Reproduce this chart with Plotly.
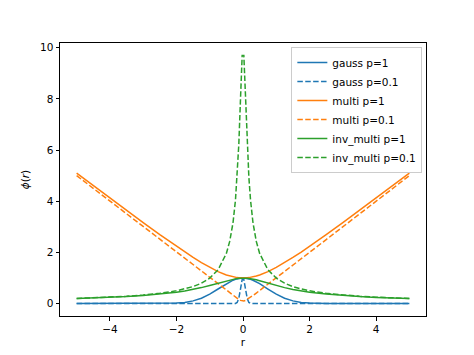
import plotly.graph_objects as go

r = [-5, -4.5, -4, -3.5, -3, -2.5, -2, -1.75, -1.5, -1.25, -1, -0.75, -0.5, -0.4, -0.3,
     -0.226, -0.176, -0.126, -0.075, -0.025,
     0.025, 0.075, 0.126, 0.176, 0.226, 0.3, 0.4, 0.5, 0.75, 1, 1.25, 1.5, 1.75, 2,
     2.5, 3, 3.5, 4, 4.5, 5]

gauss_p1 = [0, 0, 0, 0, 0.0001, 0.0019, 0.0183, 0.0468, 0.1054, 0.2096, 0.3679, 0.5698,
            0.7788, 0.8521, 0.9139, 0.9502, 0.9695, 0.9843, 0.9944, 0.9994,
            0.9994, 0.9944, 0.9843, 0.9695, 0.9502, 0.9139, 0.8521, 0.7788, 0.5698, 0.3679,
            0.2096, 0.1054, 0.0468, 0.0183, 0.0019, 0.0001, 0, 0, 0, 0]

gauss_p01 = [0, 0, 0, 0, 0, 0, 0, 0, 0, 0, 0, 0, 0, 0, 0.0001, 0.0060, 0.0451, 0.2044, 0.5698, 0.9394,
             0.9394, 0.5698, 0.2044, 0.0451, 0.0060, 0.0001, 0, 0, 0, 0, 0, 0, 0, 0, 0, 0, 0, 0, 0, 0]

multi_p1 = [5.0990, 4.6098, 4.1231, 3.6401, 3.1623, 2.6926, 2.2361, 2.0156, 1.8028, 1.6008,
            1.4142, 1.25, 1.1180, 1.0770, 1.0440, 1.0252, 1.0153, 1.0079, 1.0028, 1.0003,
            1.0003, 1.0028, 1.0079, 1.0153, 1.0252, 1.0440, 1.0770, 1.1180, 1.25, 1.4142,
            1.6008, 1.8028, 2.0156, 2.2361, 2.6926, 3.1623, 3.6401, 4.1231, 4.6098, 5.0990]

multi_p01 = [5.001, 4.5011, 4.0012, 3.5014, 3.0017, 2.502, 2.0025, 1.7529, 1.5033, 1.254,
             1.005, 0.7566, 0.5099, 0.4123, 0.3162, 0.2471, 0.2024, 0.1609, 0.125, 0.1031,
             0.1031, 0.125, 0.1609, 0.2024, 0.2471, 0.3162, 0.4123, 0.5099, 0.7566, 1.005,
             1.254, 1.5033, 1.7529, 2.0025, 2.502, 3.0017, 3.5014, 4.0012, 4.5011, 5.001]

inv_multi_p1 = [0.1961, 0.2169, 0.2425, 0.2747, 0.3162, 0.3714, 0.4472, 0.4961, 0.5547, 0.6247,
                0.7071, 0.8, 0.8944, 0.9285, 0.9578, 0.9754, 0.9849, 0.9922, 0.9972, 0.9997,
                0.9997, 0.9972, 0.9922, 0.9849, 0.9754, 0.9578, 0.9285, 0.8944, 0.8, 0.7071,
                0.6247, 0.5547, 0.4961, 0.4472, 0.3714, 0.3162, 0.2747, 0.2425, 0.2169, 0.1961]

inv_multi_p01 = [0.200, 0.222, 0.250, 0.286, 0.333, 0.400, 0.499, 0.571, 0.665, 0.797,
                 0.995, 1.32, 1.96, 2.43, 3.16, 4.05, 4.94, 6.22, 8.0, 9.70,
                 9.70, 8.0, 6.22, 4.94, 4.05, 3.16, 2.43, 1.96, 1.32, 0.995,
                 0.797, 0.665, 0.571, 0.499, 0.400, 0.333, 0.286, 0.250, 0.222, 0.200]

x_ticks = [-4, -2, 0, 2, 4]
y_ticks = [0, 2, 4, 6, 8, 10]

BLUE, ORANGE, GREEN = "#1f77b4", "#ff7f0e", "#2ca02c"
DASH = "5.5px,2.4px"

series = [
    ("gauss p=1", gauss_p1, BLUE, "solid"),
    ("gauss p=0.1", gauss_p01, BLUE, DASH),
    ("multi p=1", multi_p1, ORANGE, "solid"),
    ("multi p=0.1", multi_p01, ORANGE, DASH),
    ("inv_multi p=1", inv_multi_p1, GREEN, "solid"),
    ("inv_multi p=0.1", inv_multi_p01, GREEN, DASH),
]

fig = go.Figure()
for name, ys, col, dash in series:
    fig.add_trace(go.Scatter(x=r, y=ys, mode="lines", name=name,
                             line=dict(color=col, width=1.5, dash=dash)))

axis_common = dict(showline=True, linecolor="black", linewidth=1, mirror=True,
                   ticks="outside", ticklen=3.5, tickwidth=1, tickcolor="black",
                   showgrid=False, zeroline=False, automargin=False,
                   tickfont=dict(family="DejaVu Sans", size=10.5, color="black"))

fig.update_layout(
    width=474, height=355,
    margin=dict(l=60, r=48, t=43, b=39),
    paper_bgcolor="white", plot_bgcolor="white",
    font=dict(family="DejaVu Sans", size=10.5, color="black"),
    xaxis=dict(range=[-5.5, 5.5], tickvals=x_ticks,
               ticktext=["\u22124", "\u22122", "0", "2", "4"],
               title=dict(text="r", standoff=4, font=dict(size=10.5)), **axis_common),
    yaxis=dict(range=[-0.485, 10.185], tickvals=y_ticks,
               title=dict(text="<i>\u03d5</i>(<i>r</i>)", standoff=8, font=dict(size=10.5)),
               **axis_common),
    legend=dict(x=0.99, y=0.985, xanchor="right", yanchor="top",
                bgcolor="rgba(255,255,255,0.8)", bordercolor="#cccccc", borderwidth=1,
                font=dict(family="DejaVu Sans", size=10.5), tracegroupgap=0,
                itemwidth=30),
    showlegend=True,
)

fig.write_html("out.html",
               config={"displayModeBar": False},
               post_script="document.body.style.margin='0';document.body.style.overflow='hidden';")
